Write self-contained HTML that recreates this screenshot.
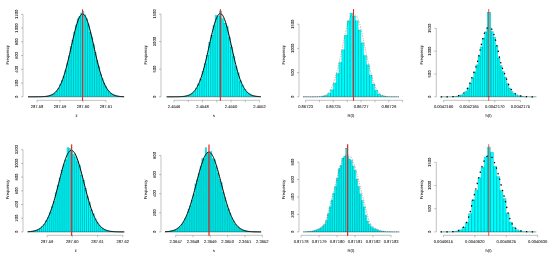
<!DOCTYPE html><html><head><meta charset="utf-8"><title>Histograms</title>
<style>html,body{margin:0;padding:0;background:#fff}svg{display:block}text{font-family:"Liberation Sans",Arial,sans-serif;fill:#111;stroke:#111;stroke-width:0.04px;text-rendering:geometricPrecision}</style></head><body>
<svg width="550" height="259" viewBox="0 0 550 259">
<rect width="550" height="259" fill="#fff"/>
<g>
<path d="M28.00,96.80V96.80h1.75V96.80h1.75V96.80h1.75V96.80h1.75V96.80h1.75V96.65h1.75V96.65h1.75V96.65h1.75V96.64h1.75V96.59h1.75V96.30h1.75V96.02h1.75V95.50h1.75V94.81h1.75V93.95h1.75V92.64h1.75V90.80h1.75V88.21h1.75V83.97h1.75V80.55h1.75V75.91h1.75V70.04h1.75V63.38h1.75V55.68h1.75V46.51h1.75V39.87h1.75V31.98h1.75V25.00h1.75V18.78h1.75V16.62h1.75V13.06h1.75V11.13h1.75V14.64h1.75V18.59h1.75V23.89h1.75V31.97h1.75V36.81h1.75V44.18h1.75V52.31h1.75V60.36h1.75V66.33h1.75V73.82h1.75V78.73h1.75V83.12h1.75V86.23h1.75V89.59h1.75V91.85h1.75V93.36h1.75V94.41h1.75V95.22h1.75V95.81h1.75V96.21h1.75V96.51h1.75V96.55h1.75V96.65h1.75V96.80Z" fill="#00fdfd"/>
<path d="M45.50,96.80v-0.50h1.75v0.50M47.25,96.80v-0.78h1.75v0.78M49.00,96.80v-1.30h1.75v1.30M50.75,96.80v-1.99h1.75v1.99M52.50,96.80v-2.85h1.75v2.85M54.25,96.80v-4.16h1.75v4.16M56.00,96.80v-6.00h1.75v6.00M57.75,96.80v-8.59h1.75v8.59M59.50,96.80v-12.83h1.75v12.83M61.25,96.80v-16.25h1.75v16.25M63.00,96.80v-20.89h1.75v20.89M64.75,96.80v-26.76h1.75v26.76M66.50,96.80v-33.42h1.75v33.42M68.25,96.80v-41.12h1.75v41.12M70.00,96.80v-50.29h1.75v50.29M71.75,96.80v-56.93h1.75v56.93M73.50,96.80v-64.82h1.75v64.82M75.25,96.80v-71.80h1.75v71.80M77.00,96.80v-78.02h1.75v78.02M78.75,96.80v-80.18h1.75v80.18M80.50,96.80v-83.74h1.75v83.74M82.25,96.80v-85.67h1.75v85.67M84.00,96.80v-82.16h1.75v82.16M85.75,96.80v-78.21h1.75v78.21M87.50,96.80v-72.91h1.75v72.91M89.25,96.80v-64.83h1.75v64.83M91.00,96.80v-59.99h1.75v59.99M92.75,96.80v-52.62h1.75v52.62M94.50,96.80v-44.49h1.75v44.49M96.25,96.80v-36.44h1.75v36.44M98.00,96.80v-30.47h1.75v30.47M99.75,96.80v-22.98h1.75v22.98M101.50,96.80v-18.07h1.75v18.07M103.25,96.80v-13.68h1.75v13.68M105.00,96.80v-10.57h1.75v10.57M106.75,96.80v-7.21h1.75v7.21M108.50,96.80v-4.95h1.75v4.95M110.25,96.80v-3.44h1.75v3.44M112.00,96.80v-2.39h1.75v2.39M113.75,96.80v-1.58h1.75v1.58M115.50,96.80v-0.99h1.75v0.99M117.25,96.80v-0.59h1.75v0.59" fill="none" stroke="#06262c" stroke-width="0.16"/>
<path d="M28.00,96.80H124.40" stroke="#0a4a50" stroke-width="0.5"/>
<polyline points="28.00,96.80 28.50,96.80 29.00,96.80 29.50,96.80 30.00,96.80 30.50,96.80 31.00,96.80 31.50,96.80 32.00,96.80 32.50,96.80 33.00,96.79 33.50,96.79 34.00,96.79 34.50,96.79 35.00,96.79 35.50,96.79 36.00,96.78 36.50,96.78 37.00,96.78 37.50,96.77 38.00,96.77 38.50,96.76 39.00,96.75 39.50,96.74 40.00,96.73 40.50,96.72 41.00,96.71 41.50,96.69 42.00,96.67 42.50,96.65 43.00,96.62 43.50,96.59 44.00,96.56 44.50,96.52 45.00,96.47 45.50,96.42 46.00,96.36 46.50,96.30 47.00,96.22 47.50,96.13 48.00,96.04 48.50,95.93 49.00,95.80 49.50,95.67 50.00,95.51 50.50,95.34 51.00,95.14 51.50,94.92 52.00,94.68 52.50,94.42 53.00,94.12 53.50,93.79 54.00,93.43 54.50,93.04 55.00,92.61 55.50,92.13 56.00,91.61 56.50,91.05 57.00,90.44 57.50,89.77 58.00,89.06 58.50,88.28 59.00,87.45 59.50,86.55 60.00,85.59 60.50,84.57 61.00,83.48 61.50,82.32 62.00,81.08 62.50,79.78 63.00,78.40 63.50,76.96 64.00,75.44 64.50,73.84 65.00,72.18 65.50,70.45 66.00,68.65 66.50,66.79 67.00,64.87 67.50,62.89 68.00,60.86 68.50,58.79 69.00,56.67 69.50,54.51 70.00,52.33 70.50,50.13 71.00,47.91 71.50,45.69 72.00,43.47 72.50,41.27 73.00,39.08 73.50,36.93 74.00,34.82 74.50,32.76 75.00,30.76 75.50,28.83 76.00,26.98 76.50,25.23 77.00,23.57 77.50,22.02 78.00,20.58 78.50,19.27 79.00,18.10 79.50,17.06 80.00,16.16 80.50,15.42 81.00,14.83 81.50,14.39 82.00,14.12 82.50,14.00 83.00,14.05 83.50,14.26 84.00,14.63 84.50,15.16 85.00,15.85 85.50,16.68 86.00,17.66 86.50,18.79 87.00,20.04 87.50,21.43 88.00,22.93 88.50,24.55 89.00,26.27 89.50,28.08 90.00,29.98 90.50,31.95 91.00,33.99 91.50,36.08 92.00,38.22 92.50,40.39 93.00,42.59 93.50,44.80 94.00,47.02 94.50,49.24 95.00,51.45 95.50,53.64 96.00,55.81 96.50,57.94 97.00,60.04 97.50,62.09 98.00,64.09 98.50,66.03 99.00,67.92 99.50,69.74 100.00,71.50 100.50,73.19 101.00,74.81 101.50,76.36 102.00,77.83 102.50,79.24 103.00,80.57 103.50,81.83 104.00,83.02 104.50,84.14 105.00,85.19 105.50,86.18 106.00,87.10 106.50,87.96 107.00,88.75 107.50,89.49 108.00,90.18 108.50,90.81 109.00,91.40 109.50,91.93 110.00,92.42 110.50,92.87 111.00,93.28 111.50,93.65 112.00,93.99 112.50,94.30 113.00,94.58 113.50,94.83 114.00,95.06 114.50,95.26 115.00,95.44 115.50,95.61 116.00,95.75 116.50,95.88 117.00,96.00 117.50,96.10 118.00,96.19 118.50,96.27 119.00,96.34 119.50,96.40 120.00,96.45 120.50,96.50 121.00,96.54 121.50,96.58 122.00,96.61 122.50,96.64 123.00,96.66 123.50,96.68 124.00,96.70" fill="none" stroke="#000" stroke-width="1.0" stroke-linejoin="round"/>
<line x1="82.5" y1="9.3" x2="82.5" y2="100.8" stroke="#e42626" stroke-width="1.1"/>
<path d="M23,14.30V96.80" stroke="#444" stroke-width="0.33" fill="none"/>
<path d="M23,96.80h-2" stroke="#444" stroke-width="0.33"/>
<text transform="translate(18.15,96.80) rotate(-90)" font-size="4.12" text-anchor="middle">0</text>
<path d="M23,83.05h-2" stroke="#444" stroke-width="0.33"/>
<text transform="translate(18.15,83.05) rotate(-90)" font-size="4.12" text-anchor="middle">200</text>
<path d="M23,69.30h-2" stroke="#444" stroke-width="0.33"/>
<text transform="translate(18.15,69.30) rotate(-90)" font-size="4.12" text-anchor="middle">400</text>
<path d="M23,55.55h-2" stroke="#444" stroke-width="0.33"/>
<text transform="translate(18.15,55.55) rotate(-90)" font-size="4.12" text-anchor="middle">600</text>
<path d="M23,41.80h-2" stroke="#444" stroke-width="0.33"/>
<text transform="translate(18.15,41.80) rotate(-90)" font-size="4.12" text-anchor="middle">800</text>
<path d="M23,28.05h-2" stroke="#444" stroke-width="0.33"/>
<text transform="translate(18.15,28.05) rotate(-90)" font-size="4.12" text-anchor="middle">1000</text>
<path d="M23,14.30h-2" stroke="#444" stroke-width="0.33"/>
<text transform="translate(18.15,14.30) rotate(-90)" font-size="4.12" text-anchor="middle">1200</text>
<text transform="translate(9.20,54.80) rotate(-90)" font-size="4.12" text-anchor="middle">Frequency</text>
<path d="M37.00,100.3H106.00" stroke="#444" stroke-width="0.33" fill="none"/>
<path d="M37.00,100.3v2" stroke="#444" stroke-width="0.33"/>
<text x="37.00" y="108.40" font-size="4.12" text-anchor="middle">287.58</text>
<path d="M60.00,100.3v2" stroke="#444" stroke-width="0.33"/>
<text x="60.00" y="108.40" font-size="4.12" text-anchor="middle">287.59</text>
<path d="M83.00,100.3v2" stroke="#444" stroke-width="0.33"/>
<text x="83.00" y="108.40" font-size="4.12" text-anchor="middle">287.60</text>
<path d="M106.00,100.3v2" stroke="#444" stroke-width="0.33"/>
<text x="106.00" y="108.40" font-size="4.12" text-anchor="middle">287.61</text>
<text x="76.50" y="117.30" font-size="4.12" text-anchor="middle">z</text>
</g>
<g>
<path d="M166.70,96.80V96.80h2.20V96.80h2.20V96.64h2.20V96.80h2.20V96.65h2.20V96.65h2.20V96.52h2.20V96.33h2.20V96.19h2.20V95.51h2.20V94.71h2.20V93.56h2.20V91.40h2.20V88.16h2.20V83.82h2.20V78.63h2.20V71.24h2.20V63.60h2.20V55.07h2.20V42.35h2.20V35.08h2.20V25.41h2.20V15.14h2.20V16.26h2.20V10.94h2.20V18.41h2.20V22.99h2.20V26.16h2.20V37.29h2.20V46.97h2.20V56.13h2.20V66.16h2.20V72.81h2.20V80.66h2.20V85.17h2.20V89.35h2.20V92.11h2.20V93.69h2.20V94.96h2.20V95.87h2.20V96.34h2.20V96.48h2.20V96.80Z" fill="#00fdfd"/>
<path d="M182.10,96.80v-0.47h2.20v0.47M184.30,96.80v-0.61h2.20v0.61M186.50,96.80v-1.29h2.20v1.29M188.70,96.80v-2.09h2.20v2.09M190.90,96.80v-3.24h2.20v3.24M193.10,96.80v-5.40h2.20v5.40M195.30,96.80v-8.64h2.20v8.64M197.50,96.80v-12.98h2.20v12.98M199.70,96.80v-18.17h2.20v18.17M201.90,96.80v-25.56h2.20v25.56M204.10,96.80v-33.20h2.20v33.20M206.30,96.80v-41.73h2.20v41.73M208.50,96.80v-54.45h2.20v54.45M210.70,96.80v-61.72h2.20v61.72M212.90,96.80v-71.39h2.20v71.39M215.10,96.80v-81.66h2.20v81.66M217.30,96.80v-80.54h2.20v80.54M219.50,96.80v-85.86h2.20v85.86M221.70,96.80v-78.39h2.20v78.39M223.90,96.80v-73.81h2.20v73.81M226.10,96.80v-70.64h2.20v70.64M228.30,96.80v-59.51h2.20v59.51M230.50,96.80v-49.83h2.20v49.83M232.70,96.80v-40.67h2.20v40.67M234.90,96.80v-30.64h2.20v30.64M237.10,96.80v-23.99h2.20v23.99M239.30,96.80v-16.14h2.20v16.14M241.50,96.80v-11.63h2.20v11.63M243.70,96.80v-7.45h2.20v7.45M245.90,96.80v-4.69h2.20v4.69M248.10,96.80v-3.11h2.20v3.11M250.30,96.80v-1.84h2.20v1.84M252.50,96.80v-0.93h2.20v0.93M254.70,96.80v-0.46h2.20v0.46M256.90,96.80v-0.32h2.20v0.32" fill="none" stroke="#06262c" stroke-width="0.16"/>
<path d="M166.70,96.80H261.00" stroke="#0a4a50" stroke-width="0.5"/>
<polyline points="166.70,96.80 167.20,96.80 167.70,96.80 168.20,96.80 168.70,96.80 169.20,96.80 169.70,96.80 170.20,96.80 170.70,96.80 171.20,96.79 171.70,96.79 172.20,96.79 172.70,96.79 173.20,96.79 173.70,96.79 174.20,96.78 174.70,96.78 175.20,96.77 175.70,96.77 176.20,96.76 176.70,96.76 177.20,96.75 177.70,96.74 178.20,96.73 178.70,96.72 179.20,96.70 179.70,96.68 180.20,96.66 180.70,96.64 181.20,96.61 181.70,96.58 182.20,96.54 182.70,96.50 183.20,96.45 183.70,96.40 184.20,96.34 184.70,96.27 185.20,96.19 185.70,96.09 186.20,95.99 186.70,95.87 187.20,95.74 187.70,95.60 188.20,95.43 188.70,95.24 189.20,95.04 189.70,94.81 190.20,94.55 190.70,94.27 191.20,93.95 191.70,93.60 192.20,93.22 192.70,92.80 193.20,92.34 193.70,91.84 194.20,91.29 194.70,90.69 195.20,90.04 195.70,89.33 196.20,88.57 196.70,87.75 197.20,86.87 197.70,85.92 198.20,84.91 198.70,83.83 199.20,82.68 199.70,81.45 200.20,80.16 200.70,78.79 201.20,77.34 201.70,75.82 202.20,74.23 202.70,72.57 203.20,70.83 203.70,69.03 204.20,67.16 204.70,65.22 205.20,63.23 205.70,61.18 206.20,59.09 206.70,56.95 207.20,54.77 207.70,52.56 208.20,50.33 208.70,48.08 209.20,45.82 209.70,43.57 210.20,41.33 210.70,39.11 211.20,36.92 211.70,34.77 212.20,32.67 212.70,30.63 213.20,28.66 213.70,26.78 214.20,24.98 214.70,23.29 215.20,21.70 215.70,20.24 216.20,18.90 216.70,17.69 217.20,16.63 217.70,15.71 218.20,14.95 218.70,14.35 219.20,13.90 219.70,13.62 220.20,13.50 220.70,13.55 221.20,13.77 221.70,14.15 222.20,14.69 222.70,15.39 223.20,16.25 223.70,17.25 224.20,18.40 224.70,19.69 225.20,21.10 225.70,22.64 226.20,24.29 226.70,26.05 227.20,27.90 227.70,29.83 228.20,31.85 228.70,33.92 229.20,36.05 229.70,38.23 230.20,40.44 230.70,42.67 231.20,44.92 231.70,47.18 232.20,49.43 232.70,51.67 233.20,53.89 233.70,56.08 234.20,58.24 234.70,60.35 235.20,62.42 235.70,64.43 236.20,66.39 236.70,68.29 237.20,70.12 237.70,71.88 238.20,73.57 238.70,75.19 239.20,76.74 239.70,78.22 240.20,79.62 240.70,80.94 241.20,82.20 241.70,83.38 242.20,84.49 242.70,85.53 243.20,86.50 243.70,87.41 244.20,88.25 244.70,89.04 245.20,89.76 245.70,90.43 246.20,91.05 246.70,91.62 247.20,92.14 247.70,92.62 248.20,93.06 248.70,93.45 249.20,93.82 249.70,94.14 250.20,94.44 250.70,94.71 251.20,94.95 251.70,95.16 252.20,95.36 252.70,95.53 253.20,95.69 253.70,95.82 254.20,95.95 254.70,96.06 255.20,96.15 255.70,96.24 256.20,96.31 256.70,96.38 257.20,96.43 257.70,96.48 258.20,96.53 258.70,96.57 259.20,96.60 259.70,96.63 260.20,96.65 260.70,96.68" fill="none" stroke="#000" stroke-width="1.0" stroke-linejoin="round"/>
<line x1="220.4" y1="9.3" x2="220.4" y2="100.8" stroke="#e42626" stroke-width="1.1"/>
<path d="M161,14.00V96.80" stroke="#444" stroke-width="0.33" fill="none"/>
<path d="M161,96.80h-2" stroke="#444" stroke-width="0.33"/>
<text transform="translate(156.15,96.80) rotate(-90)" font-size="4.12" text-anchor="middle">0</text>
<path d="M161,69.20h-2" stroke="#444" stroke-width="0.33"/>
<text transform="translate(156.15,69.20) rotate(-90)" font-size="4.12" text-anchor="middle">500</text>
<path d="M161,41.60h-2" stroke="#444" stroke-width="0.33"/>
<text transform="translate(156.15,41.60) rotate(-90)" font-size="4.12" text-anchor="middle">1000</text>
<path d="M161,14.00h-2" stroke="#444" stroke-width="0.33"/>
<text transform="translate(156.15,14.00) rotate(-90)" font-size="4.12" text-anchor="middle">1500</text>
<text transform="translate(147.20,54.80) rotate(-90)" font-size="4.12" text-anchor="middle">Frequency</text>
<path d="M174.00,100.3H259.50" stroke="#444" stroke-width="0.33" fill="none"/>
<path d="M174.00,100.3v2" stroke="#444" stroke-width="0.33"/>
<text x="174.00" y="108.40" font-size="4.12" text-anchor="middle">2.4546</text>
<path d="M188.25,100.3v2" stroke="#444" stroke-width="0.33"/>
<path d="M202.50,100.3v2" stroke="#444" stroke-width="0.33"/>
<text x="202.50" y="108.40" font-size="4.12" text-anchor="middle">2.4548</text>
<path d="M216.75,100.3v2" stroke="#444" stroke-width="0.33"/>
<path d="M231.00,100.3v2" stroke="#444" stroke-width="0.33"/>
<text x="231.00" y="108.40" font-size="4.12" text-anchor="middle">2.4550</text>
<path d="M245.25,100.3v2" stroke="#444" stroke-width="0.33"/>
<path d="M259.50,100.3v2" stroke="#444" stroke-width="0.33"/>
<text x="259.50" y="108.40" font-size="4.12" text-anchor="middle">2.4552</text>
<text x="213.70" y="117.30" font-size="4.12" text-anchor="middle">s</text>
</g>
<g>
<path d="M305.60,96.80V96.80h2.77V96.80h2.77V96.80h2.77V96.65h2.77V96.65h2.77V96.57h2.77V96.10h2.77V95.24h2.77V93.31h2.77V89.65h2.77V83.00h2.77V73.50h2.77V62.40h2.77V49.70h2.77V35.30h2.77V20.70h2.77V13.10h2.77V16.10h2.77V20.70h2.77V30.00h2.77V42.70h2.77V55.50h2.77V64.70h2.77V74.90h2.77V84.12h2.77V90.21h2.77V93.94h2.77V95.41h2.77V96.29h2.77V96.61h2.77V96.65h2.77V96.65h2.77V96.80h2.77V96.80Z" fill="#00fdfd"/>
<path d="M322.24,96.80v-0.70h2.77v0.70M325.02,96.80v-1.56h2.77v1.56M327.79,96.80v-3.49h2.77v3.49M330.57,96.80v-7.15h2.77v7.15M333.34,96.80v-13.80h2.77v13.80M336.11,96.80v-23.30h2.77v23.30M338.89,96.80v-34.40h2.77v34.40M341.66,96.80v-47.10h2.77v47.10M344.44,96.80v-61.50h2.77v61.50M347.21,96.80v-76.10h2.77v76.10M349.98,96.80v-83.70h2.77v83.70M352.76,96.80v-80.70h2.77v80.70M355.53,96.80v-76.10h2.77v76.10M358.31,96.80v-66.80h2.77v66.80M361.08,96.80v-54.10h2.77v54.10M363.85,96.80v-41.30h2.77v41.30M366.63,96.80v-32.10h2.77v32.10M369.40,96.80v-21.90h2.77v21.90M372.18,96.80v-12.68h2.77v12.68M374.95,96.80v-6.59h2.77v6.59M377.72,96.80v-2.86h2.77v2.86M380.50,96.80v-1.39h2.77v1.39M383.27,96.80v-0.51h2.77v0.51" fill="none" stroke="#06262c" stroke-width="0.16"/>
<path d="M303.00,96.80H399.00" stroke="#0a4a50" stroke-width="0.5"/>
<polyline points="303.00,96.80 303.50,96.80 304.00,96.80 304.50,96.80 305.00,96.80 305.50,96.80 306.00,96.80 306.50,96.80 307.00,96.80 307.50,96.80 308.00,96.80 308.50,96.80 309.00,96.80 309.50,96.80 310.00,96.80 310.50,96.79 311.00,96.79 311.50,96.79 312.00,96.79 312.50,96.79 313.00,96.78 313.50,96.78 314.00,96.78 314.50,96.77 315.00,96.76 315.50,96.76 316.00,96.75 316.50,96.73 317.00,96.72 317.50,96.70 318.00,96.68 318.50,96.66 319.00,96.63 319.50,96.59 320.00,96.55 320.50,96.50 321.00,96.44 321.50,96.37 322.00,96.29 322.50,96.19 323.00,96.07 323.50,95.93 324.00,95.78 324.50,95.59 325.00,95.38 325.50,95.14 326.00,94.87 326.50,94.56 327.00,94.20 327.50,93.81 328.00,93.33 328.50,92.77 329.00,92.14 329.50,91.43 330.00,90.65 330.50,89.79 331.00,88.84 331.50,87.80 332.00,86.70 332.50,85.53 333.00,84.26 333.50,82.90 334.00,81.45 334.50,79.90 335.00,78.26 335.50,76.52 336.00,74.77 336.50,73.00 337.00,71.14 337.50,69.20 338.00,67.18 338.50,65.10 339.00,62.94 339.50,60.73 340.00,58.46 340.50,56.14 341.00,53.78 341.50,51.40 342.00,49.00 342.50,46.58 343.00,44.17 343.50,41.77 344.00,39.40 344.50,37.07 345.00,34.79 345.50,32.57 346.00,30.44 346.50,28.39 347.00,26.44 347.50,24.61 348.00,22.91 348.50,21.34 349.00,19.92 349.50,18.66 350.00,17.57 350.50,16.65 351.00,15.91 351.50,15.35 352.00,14.99 352.50,14.82 353.00,14.80 353.50,14.80 354.00,14.80 354.50,14.80 355.00,14.83 355.50,15.05 356.00,15.45 356.50,16.04 357.00,16.82 357.50,17.77 358.00,18.90 358.50,20.19 359.00,21.64 359.50,23.24 360.00,24.97 360.50,26.82 361.00,28.79 361.50,30.86 362.00,33.01 362.50,35.24 363.00,37.53 363.50,39.87 364.00,42.25 364.50,44.65 365.00,47.06 365.50,49.48 366.00,51.88 366.50,54.26 367.00,56.61 367.50,58.92 368.00,61.18 368.50,63.38 369.00,65.52 369.50,67.59 370.00,69.59 370.50,71.52 371.00,73.36 371.50,75.12 372.00,76.87 372.50,78.59 373.00,80.22 373.50,81.75 374.00,83.18 374.50,84.52 375.00,85.77 375.50,86.92 376.00,88.02 376.50,89.04 377.00,89.97 377.50,90.82 378.00,91.58 378.50,92.27 379.00,92.88 379.50,93.43 380.00,93.89 380.50,94.28 381.00,94.62 381.50,94.93 382.00,95.19 382.50,95.43 383.00,95.63 383.50,95.81 384.00,95.96 384.50,96.09 385.00,96.21 385.50,96.31 386.00,96.39 386.50,96.46 387.00,96.51 387.50,96.56 388.00,96.60 388.50,96.63 389.00,96.66 389.50,96.69 390.00,96.70 390.50,96.72 391.00,96.74 391.50,96.75 392.00,96.76 392.50,96.76 393.00,96.77 393.50,96.78 394.00,96.78 394.50,96.78 395.00,96.79 395.50,96.79 396.00,96.79 396.50,96.79 397.00,96.80 397.50,96.80 398.00,96.80 398.50,96.80 399.00,96.80" fill="none" stroke="#000" stroke-width="0.5" stroke-dasharray="0.5 1.3"/>
<line x1="353.5" y1="9.1" x2="353.5" y2="100.8" stroke="#e42626" stroke-width="1.1"/>
<path d="M299,24.20V96.80" stroke="#444" stroke-width="0.33" fill="none"/>
<path d="M299,96.80h-2" stroke="#444" stroke-width="0.33"/>
<text transform="translate(294.15,96.80) rotate(-90)" font-size="4.12" text-anchor="middle">0</text>
<path d="M299,72.60h-2" stroke="#444" stroke-width="0.33"/>
<text transform="translate(294.15,72.60) rotate(-90)" font-size="4.12" text-anchor="middle">500</text>
<path d="M299,48.40h-2" stroke="#444" stroke-width="0.33"/>
<text transform="translate(294.15,48.40) rotate(-90)" font-size="4.12" text-anchor="middle">1000</text>
<path d="M299,24.20h-2" stroke="#444" stroke-width="0.33"/>
<text transform="translate(294.15,24.20) rotate(-90)" font-size="4.12" text-anchor="middle">1500</text>
<text transform="translate(285.20,54.80) rotate(-90)" font-size="4.12" text-anchor="middle">Frequency</text>
<path d="M305.60,100.3H402.69" stroke="#444" stroke-width="0.33" fill="none"/>
<path d="M305.60,100.3v2" stroke="#444" stroke-width="0.33"/>
<text x="305.60" y="108.40" font-size="4.12" text-anchor="middle">0.86723</text>
<path d="M319.47,100.3v2" stroke="#444" stroke-width="0.33"/>
<path d="M333.34,100.3v2" stroke="#444" stroke-width="0.33"/>
<text x="333.34" y="108.40" font-size="4.12" text-anchor="middle">0.86725</text>
<path d="M347.21,100.3v2" stroke="#444" stroke-width="0.33"/>
<path d="M361.08,100.3v2" stroke="#444" stroke-width="0.33"/>
<text x="361.08" y="108.40" font-size="4.12" text-anchor="middle">0.86727</text>
<path d="M374.95,100.3v2" stroke="#444" stroke-width="0.33"/>
<path d="M388.82,100.3v2" stroke="#444" stroke-width="0.33"/>
<text x="388.82" y="108.40" font-size="4.12" text-anchor="middle">0.86729</text>
<path d="M402.69,100.3v2" stroke="#444" stroke-width="0.33"/>
<text x="351.00" y="117.30" font-size="4.12" text-anchor="middle">R(t)</text>
</g>
<g>
<path d="M442.80,96.80V96.80h2.20V96.80h2.20V96.65h2.20V96.65h2.20V96.60h2.20V96.45h2.20V96.05h2.20V95.57h2.20V94.74h2.20V93.39h2.20V91.35h2.20V87.87h2.20V83.15h2.20V77.66h2.20V71.76h2.20V64.72h2.20V56.10h2.20V46.86h2.20V37.93h2.20V31.75h2.20V28.97h2.20V27.80h2.20V31.54h2.20V37.09h2.20V45.81h2.20V57.72h2.20V65.39h2.20V71.41h2.20V77.11h2.20V83.45h2.20V87.96h2.20V91.51h2.20V93.39h2.20V94.63h2.20V95.50h2.20V96.03h2.20V96.35h2.20V96.65h2.20V96.65h2.20V96.65h2.20V96.80h2.20V96.80h2.20V96.80Z" fill="#00fdfd"/>
<path d="M453.80,96.80v-0.35h2.20v0.35M456.00,96.80v-0.75h2.20v0.75M458.20,96.80v-1.23h2.20v1.23M460.40,96.80v-2.06h2.20v2.06M462.60,96.80v-3.41h2.20v3.41M464.80,96.80v-5.45h2.20v5.45M467.00,96.80v-8.93h2.20v8.93M469.20,96.80v-13.65h2.20v13.65M471.40,96.80v-19.14h2.20v19.14M473.60,96.80v-25.04h2.20v25.04M475.80,96.80v-32.08h2.20v32.08M478.00,96.80v-40.70h2.20v40.70M480.20,96.80v-49.94h2.20v49.94M482.40,96.80v-58.87h2.20v58.87M484.60,96.80v-65.05h2.20v65.05M486.80,96.80v-67.83h2.20v67.83M489.00,96.80v-69.00h2.20v69.00M491.20,96.80v-65.26h2.20v65.26M493.40,96.80v-59.71h2.20v59.71M495.60,96.80v-50.99h2.20v50.99M497.80,96.80v-39.08h2.20v39.08M500.00,96.80v-31.41h2.20v31.41M502.20,96.80v-25.39h2.20v25.39M504.40,96.80v-19.69h2.20v19.69M506.60,96.80v-13.35h2.20v13.35M508.80,96.80v-8.84h2.20v8.84M511.00,96.80v-5.29h2.20v5.29M513.20,96.80v-3.41h2.20v3.41M515.40,96.80v-2.17h2.20v2.17M517.60,96.80v-1.30h2.20v1.30M519.80,96.80v-0.77h2.20v0.77M522.00,96.80v-0.45h2.20v0.45" fill="none" stroke="#06262c" stroke-width="0.16"/>
<rect x="487.3" y="12.2" width="3.40" height="84.60" fill="#00fdfd" stroke="#06262c" stroke-width="0.2"/>
<path d="M440.70,96.80H536.40" stroke="#0a4a50" stroke-width="0.5"/>
<polyline points="440.70,96.80 441.20,96.80 441.70,96.80 442.20,96.79 442.70,96.79 443.20,96.79 443.70,96.79 444.20,96.79 444.70,96.79 445.20,96.78 445.70,96.78 446.20,96.78 446.70,96.77 447.20,96.76 447.70,96.76 448.20,96.75 448.70,96.74 449.20,96.73 449.70,96.72 450.20,96.70 450.70,96.68 451.20,96.66 451.70,96.64 452.20,96.61 452.70,96.58 453.20,96.54 453.70,96.50 454.20,96.45 454.70,96.39 455.20,96.33 455.70,96.25 456.20,96.17 456.70,96.07 457.20,95.97 457.70,95.85 458.20,95.71 458.70,95.55 459.20,95.38 459.70,95.19 460.20,95.01 460.70,94.80 461.20,94.57 461.70,94.32 462.20,94.04 462.70,93.74 463.20,93.40 463.70,93.04 464.20,92.64 464.70,92.20 465.20,91.66 465.70,91.04 466.20,90.36 466.70,89.62 467.20,88.81 467.70,87.94 468.20,86.99 468.70,85.97 469.20,84.88 469.70,83.72 470.20,82.47 470.70,81.15 471.20,79.74 471.70,78.26 472.20,76.70 472.70,75.28 473.20,74.13 473.70,72.92 474.20,71.70 474.70,70.43 475.20,69.11 475.70,67.73 476.20,66.25 476.70,64.59 477.20,62.87 477.70,61.10 478.20,59.04 478.70,56.63 479.20,54.23 479.70,51.89 480.20,49.67 480.70,47.47 481.20,45.32 481.70,43.22 482.20,41.20 482.70,39.26 483.20,37.43 483.70,35.71 484.20,34.11 484.70,32.66 485.20,31.36 485.70,30.22 486.20,29.26 486.70,28.48 487.20,27.87 487.70,27.46 488.20,27.24 488.70,27.20 489.20,27.20 489.70,27.22 490.20,27.40 490.70,27.77 491.20,28.34 491.70,29.09 492.20,30.02 492.70,31.12 493.20,32.39 493.70,33.81 494.20,35.38 494.70,37.07 495.20,38.89 495.70,40.81 496.20,42.81 496.70,44.89 497.20,47.04 497.70,49.23 498.20,51.45 498.70,53.75 499.20,56.15 499.70,58.56 500.20,60.73 500.70,62.52 501.20,64.25 501.70,65.93 502.20,67.44 502.70,68.84 503.20,70.17 503.70,71.45 504.20,72.67 504.70,73.89 505.20,75.06 505.70,76.38 506.20,77.95 506.70,79.45 507.20,80.88 507.70,82.22 508.20,83.47 508.70,84.66 509.20,85.76 509.70,86.80 510.20,87.75 510.70,88.64 511.20,89.46 511.70,90.22 512.20,90.91 512.70,91.54 513.20,92.11 513.70,92.55 514.20,92.96 514.70,93.33 515.20,93.67 515.70,93.98 516.20,94.27 516.70,94.52 517.20,94.76 517.70,94.97 518.20,95.16 518.70,95.34 519.20,95.52 519.70,95.68 520.20,95.82 520.70,95.94 521.20,96.05 521.70,96.15 522.20,96.24 522.70,96.31 523.20,96.38 523.70,96.44 524.20,96.49 524.70,96.53 525.20,96.57 525.70,96.60 526.20,96.63 526.70,96.66 527.20,96.68 527.70,96.70 528.20,96.71 528.70,96.73 529.20,96.74 529.70,96.75 530.20,96.76 530.70,96.76 531.20,96.77 531.70,96.77 532.20,96.78 532.70,96.78 533.20,96.79 533.70,96.79 534.20,96.79 534.70,96.79 535.20,96.79 535.70,96.79 536.20,96.80" fill="none" stroke="#000" stroke-width="1.25" stroke-dasharray="1.4 4.4"/>
<line x1="488.65" y1="9.0" x2="488.65" y2="100.8" stroke="rgba(255,0,0,0.55)" stroke-width="1.3"/>
<path d="M436.3,28.40V96.80" stroke="#444" stroke-width="0.33" fill="none"/>
<path d="M436.3,96.80h-2" stroke="#444" stroke-width="0.33"/>
<text transform="translate(431.45,96.80) rotate(-90)" font-size="4.12" text-anchor="middle">0</text>
<path d="M436.3,74.00h-2" stroke="#444" stroke-width="0.33"/>
<text transform="translate(431.45,74.00) rotate(-90)" font-size="4.12" text-anchor="middle">500</text>
<path d="M436.3,51.20h-2" stroke="#444" stroke-width="0.33"/>
<text transform="translate(431.45,51.20) rotate(-90)" font-size="4.12" text-anchor="middle">1000</text>
<path d="M436.3,28.40h-2" stroke="#444" stroke-width="0.33"/>
<text transform="translate(431.45,28.40) rotate(-90)" font-size="4.12" text-anchor="middle">1500</text>
<text transform="translate(422.50,54.80) rotate(-90)" font-size="4.12" text-anchor="middle">Frequency</text>
<path d="M443.60,100.3H520.40" stroke="#444" stroke-width="0.33" fill="none"/>
<path d="M443.60,100.3v2" stroke="#444" stroke-width="0.33"/>
<text x="443.60" y="108.40" font-size="4.12" text-anchor="middle">0.0042160</text>
<path d="M469.20,100.3v2" stroke="#444" stroke-width="0.33"/>
<text x="469.20" y="108.40" font-size="4.12" text-anchor="middle">0.0042165</text>
<path d="M494.80,100.3v2" stroke="#444" stroke-width="0.33"/>
<text x="494.80" y="108.40" font-size="4.12" text-anchor="middle">0.0042170</text>
<path d="M520.40,100.3v2" stroke="#444" stroke-width="0.33"/>
<text x="520.40" y="108.40" font-size="4.12" text-anchor="middle">0.0042175</text>
<text x="488.50" y="117.30" font-size="4.12" text-anchor="middle">h(t)</text>
</g>
<g>
<path d="M27.70,231.90V231.68h1.96V231.53h1.96V231.29h1.96V230.86h1.96V230.20h1.96V229.37h1.96V228.26h1.96V226.42h1.96V224.30h1.96V220.34h1.96V217.11h1.96V211.92h1.96V206.35h1.96V201.18h1.96V192.55h1.96V185.02h1.96V177.86h1.96V169.88h1.96V164.32h1.96V159.58h1.96V147.60h1.96V148.40h1.96V150.29h1.96V154.29h1.96V156.66h1.96V161.24h1.96V165.32h1.96V174.88h1.96V179.91h1.96V188.25h1.96V196.50h1.96V202.53h1.96V209.64h1.96V213.77h1.96V218.69h1.96V222.16h1.96V225.03h1.96V227.15h1.96V228.70h1.96V229.76h1.96V230.48h1.96V231.23h1.96V231.36h1.96V231.60h1.96V231.72h1.96V231.75h1.96V231.75h1.96V231.75h1.96V231.90h1.96V231.90Z" fill="#00fdfd"/>
<path d="M29.66,231.90v-0.37h1.96v0.37M31.62,231.90v-0.61h1.96v0.61M33.58,231.90v-1.04h1.96v1.04M35.54,231.90v-1.70h1.96v1.70M37.50,231.90v-2.53h1.96v2.53M39.46,231.90v-3.64h1.96v3.64M41.42,231.90v-5.48h1.96v5.48M43.38,231.90v-7.60h1.96v7.60M45.34,231.90v-11.56h1.96v11.56M47.30,231.90v-14.79h1.96v14.79M49.26,231.90v-19.98h1.96v19.98M51.22,231.90v-25.55h1.96v25.55M53.18,231.90v-30.72h1.96v30.72M55.14,231.90v-39.35h1.96v39.35M57.10,231.90v-46.88h1.96v46.88M59.06,231.90v-54.04h1.96v54.04M61.02,231.90v-62.02h1.96v62.02M62.98,231.90v-67.58h1.96v67.58M64.94,231.90v-72.32h1.96v72.32M66.90,231.90v-84.30h1.96v84.30M68.86,231.90v-83.50h1.96v83.50M70.82,231.90v-81.61h1.96v81.61M72.78,231.90v-77.61h1.96v77.61M74.74,231.90v-75.24h1.96v75.24M76.70,231.90v-70.66h1.96v70.66M78.66,231.90v-66.58h1.96v66.58M80.62,231.90v-57.02h1.96v57.02M82.58,231.90v-51.99h1.96v51.99M84.54,231.90v-43.65h1.96v43.65M86.50,231.90v-35.40h1.96v35.40M88.46,231.90v-29.37h1.96v29.37M90.42,231.90v-22.26h1.96v22.26M92.38,231.90v-18.13h1.96v18.13M94.34,231.90v-13.21h1.96v13.21M96.30,231.90v-9.74h1.96v9.74M98.26,231.90v-6.87h1.96v6.87M100.22,231.90v-4.75h1.96v4.75M102.18,231.90v-3.20h1.96v3.20M104.14,231.90v-2.14h1.96v2.14M106.10,231.90v-1.42h1.96v1.42M108.06,231.90v-0.67h1.96v0.67M110.02,231.90v-0.54h1.96v0.54M111.98,231.90v-0.30h1.96v0.30" fill="none" stroke="#06262c" stroke-width="0.16"/>
<path d="M27.70,231.90H124.30" stroke="#0a4a50" stroke-width="0.5"/>
<polyline points="27.70,231.72 28.20,231.69 28.70,231.66 29.20,231.63 29.70,231.59 30.20,231.54 30.70,231.49 31.20,231.44 31.70,231.37 32.20,231.30 32.70,231.22 33.20,231.13 33.70,231.04 34.20,230.93 34.70,230.80 35.20,230.67 35.70,230.52 36.20,230.35 36.70,230.17 37.20,229.97 37.70,229.75 38.20,229.50 38.70,229.24 39.20,228.94 39.70,228.63 40.20,228.28 40.70,227.90 41.20,227.49 41.70,227.05 42.20,226.57 42.70,226.05 43.20,225.50 43.70,224.90 44.20,224.25 44.70,223.56 45.20,222.83 45.70,222.04 46.20,221.21 46.70,220.32 47.20,219.37 47.70,218.38 48.20,217.32 48.70,216.21 49.20,215.04 49.70,213.82 50.20,212.53 50.70,211.19 51.20,209.79 51.70,208.33 52.20,206.82 52.70,205.25 53.20,203.63 53.70,201.96 54.20,200.24 54.70,198.47 55.20,196.67 55.70,194.82 56.20,192.94 56.70,191.03 57.20,189.10 57.70,187.14 58.20,185.18 58.70,183.20 59.20,181.22 59.70,179.24 60.20,177.28 60.70,175.33 61.20,173.41 61.70,171.51 62.20,169.66 62.70,167.85 63.20,166.10 63.70,164.40 64.20,162.77 64.70,161.22 65.20,159.74 65.70,158.36 66.20,157.06 66.70,155.87 67.20,154.78 67.70,153.80 68.20,152.93 68.70,152.18 69.20,151.55 69.70,151.05 70.20,150.68 70.70,150.43 71.20,150.31 71.70,150.32 72.20,150.47 72.70,150.74 73.20,151.14 73.70,151.67 74.20,152.32 74.70,153.09 75.20,153.98 75.70,154.99 76.20,156.10 76.70,157.31 77.20,158.63 77.70,160.03 78.20,161.52 78.70,163.09 79.20,164.74 79.70,166.44 80.20,168.21 80.70,170.03 81.20,171.89 81.70,173.79 82.20,175.72 82.70,177.67 83.20,179.64 83.70,181.62 84.20,183.59 84.70,185.57 85.20,187.54 85.70,189.49 86.20,191.42 86.70,193.32 87.20,195.19 87.70,197.03 88.20,198.83 88.70,200.58 89.20,202.30 89.70,203.96 90.20,205.57 90.70,207.12 91.20,208.63 91.70,210.07 92.20,211.46 92.70,212.79 93.20,214.07 93.70,215.28 94.20,216.44 94.70,217.54 95.20,218.58 95.70,219.57 96.20,220.50 96.70,221.38 97.20,222.20 97.70,222.98 98.20,223.71 98.70,224.38 99.20,225.02 99.70,225.61 100.20,226.16 100.70,226.67 101.20,227.14 101.70,227.58 102.20,227.98 102.70,228.35 103.20,228.69 103.70,229.00 104.20,229.29 104.70,229.55 105.20,229.79 105.70,230.01 106.20,230.21 106.70,230.39 107.20,230.55 107.70,230.70 108.20,230.83 108.70,230.95 109.20,231.06 109.70,231.15 110.20,231.24 110.70,231.32 111.20,231.39 111.70,231.45 112.20,231.50 112.70,231.55 113.20,231.60 113.70,231.63 114.20,231.67 114.70,231.70 115.20,231.72 115.70,231.75 116.20,231.77 116.70,231.79 117.20,231.80 117.70,231.81 118.20,231.83 118.70,231.84 119.20,231.85 119.70,231.85 120.20,231.86 120.70,231.87 121.20,231.87 121.70,231.88 122.20,231.88 122.70,231.88 123.20,231.88 123.70,231.89 124.20,231.89" fill="none" stroke="#000" stroke-width="1.0" stroke-linejoin="round"/>
<line x1="71.6" y1="144.4" x2="71.6" y2="235.8" stroke="#dc3232" stroke-width="1.3"/>
<path d="M23,149.70V231.90" stroke="#444" stroke-width="0.33" fill="none"/>
<path d="M23,231.90h-2" stroke="#444" stroke-width="0.33"/>
<text transform="translate(18.15,231.90) rotate(-90)" font-size="4.12" text-anchor="middle">0</text>
<path d="M23,218.20h-2" stroke="#444" stroke-width="0.33"/>
<text transform="translate(18.15,218.20) rotate(-90)" font-size="4.12" text-anchor="middle">200</text>
<path d="M23,204.50h-2" stroke="#444" stroke-width="0.33"/>
<text transform="translate(18.15,204.50) rotate(-90)" font-size="4.12" text-anchor="middle">400</text>
<path d="M23,190.80h-2" stroke="#444" stroke-width="0.33"/>
<text transform="translate(18.15,190.80) rotate(-90)" font-size="4.12" text-anchor="middle">600</text>
<path d="M23,177.10h-2" stroke="#444" stroke-width="0.33"/>
<text transform="translate(18.15,177.10) rotate(-90)" font-size="4.12" text-anchor="middle">800</text>
<path d="M23,163.40h-2" stroke="#444" stroke-width="0.33"/>
<text transform="translate(18.15,163.40) rotate(-90)" font-size="4.12" text-anchor="middle">1000</text>
<path d="M23,149.70h-2" stroke="#444" stroke-width="0.33"/>
<text transform="translate(18.15,149.70) rotate(-90)" font-size="4.12" text-anchor="middle">1200</text>
<text transform="translate(9.20,189.50) rotate(-90)" font-size="4.12" text-anchor="middle">Frequency</text>
<path d="M47.10,235.3H122.85" stroke="#444" stroke-width="0.33" fill="none"/>
<path d="M47.10,235.3v2" stroke="#444" stroke-width="0.33"/>
<text x="47.10" y="243.40" font-size="4.12" text-anchor="middle">287.59</text>
<path d="M72.35,235.3v2" stroke="#444" stroke-width="0.33"/>
<text x="72.35" y="243.40" font-size="4.12" text-anchor="middle">287.60</text>
<path d="M97.60,235.3v2" stroke="#444" stroke-width="0.33"/>
<text x="97.60" y="243.40" font-size="4.12" text-anchor="middle">287.61</text>
<path d="M122.85,235.3v2" stroke="#444" stroke-width="0.33"/>
<text x="122.85" y="243.40" font-size="4.12" text-anchor="middle">287.62</text>
<text x="75.70" y="252.30" font-size="4.12" text-anchor="middle">z</text>
</g>
<g>
<path d="M165.30,231.90V231.60h1.73V231.73h1.73V231.32h1.73V230.85h1.73V230.58h1.73V229.85h1.73V229.13h1.73V227.86h1.73V226.52h1.73V224.02h1.73V221.74h1.73V218.30h1.73V214.66h1.73V209.21h1.73V205.46h1.73V199.79h1.73V193.94h1.73V183.70h1.73V179.44h1.73V173.19h1.73V166.14h1.73V158.15h1.73V158.61h1.73V147.50h1.73V152.58h1.73V153.60h1.73V151.36h1.73V158.48h1.73V159.63h1.73V166.54h1.73V172.86h1.73V179.55h1.73V182.60h1.73V192.05h1.73V197.43h1.73V204.71h1.73V208.85h1.73V213.24h1.73V217.72h1.73V220.77h1.73V223.99h1.73V225.63h1.73V227.33h1.73V228.81h1.73V229.91h1.73V230.27h1.73V230.81h1.73V231.15h1.73V231.50h1.73V231.66h1.73V231.75h1.73V231.75h1.73V231.75h1.73V231.73h1.73V231.90h1.73V231.90Z" fill="#00eaea"/>
<path d="M168.77,231.90v-0.58h1.73v0.58M170.50,231.90v-1.05h1.73v1.05M172.23,231.90v-1.32h1.73v1.32M173.96,231.90v-2.05h1.73v2.05M175.70,231.90v-2.77h1.73v2.77M177.43,231.90v-4.04h1.73v4.04M179.16,231.90v-5.38h1.73v5.38M180.89,231.90v-7.88h1.73v7.88M182.62,231.90v-10.16h1.73v10.16M184.36,231.90v-13.60h1.73v13.60M186.09,231.90v-17.24h1.73v17.24M187.82,231.90v-22.69h1.73v22.69M189.55,231.90v-26.44h1.73v26.44M191.28,231.90v-32.11h1.73v32.11M193.02,231.90v-37.96h1.73v37.96M194.75,231.90v-48.20h1.73v48.20M196.48,231.90v-52.46h1.73v52.46M198.21,231.90v-58.71h1.73v58.71M199.94,231.90v-65.76h1.73v65.76M201.68,231.90v-73.75h1.73v73.75M203.41,231.90v-73.29h1.73v73.29M205.14,231.90v-84.40h1.73v84.40M206.87,231.90v-79.32h1.73v79.32M208.60,231.90v-78.30h1.73v78.30M210.34,231.90v-80.54h1.73v80.54M212.07,231.90v-73.42h1.73v73.42M213.80,231.90v-72.27h1.73v72.27M215.53,231.90v-65.36h1.73v65.36M217.26,231.90v-59.04h1.73v59.04M219.00,231.90v-52.35h1.73v52.35M220.73,231.90v-49.30h1.73v49.30M222.46,231.90v-39.85h1.73v39.85M224.19,231.90v-34.47h1.73v34.47M225.92,231.90v-27.19h1.73v27.19M227.66,231.90v-23.05h1.73v23.05M229.39,231.90v-18.66h1.73v18.66M231.12,231.90v-14.18h1.73v14.18M232.85,231.90v-11.13h1.73v11.13M234.58,231.90v-7.91h1.73v7.91M236.32,231.90v-6.27h1.73v6.27M238.05,231.90v-4.57h1.73v4.57M239.78,231.90v-3.09h1.73v3.09M241.51,231.90v-1.99h1.73v1.99M243.24,231.90v-1.63h1.73v1.63M244.98,231.90v-1.09h1.73v1.09M246.71,231.90v-0.75h1.73v0.75M248.44,231.90v-0.40h1.73v0.40" fill="none" stroke="#06262c" stroke-width="0.1"/>
<path d="M165.00,231.90H261.40" stroke="#0a4a50" stroke-width="0.5"/>
<polyline points="165.00,231.73 165.50,231.70 166.00,231.67 166.50,231.64 167.00,231.60 167.50,231.56 168.00,231.51 168.50,231.46 169.00,231.40 169.50,231.33 170.00,231.25 170.50,231.17 171.00,231.08 171.50,230.97 172.00,230.85 172.50,230.72 173.00,230.58 173.50,230.42 174.00,230.24 174.50,230.05 175.00,229.84 175.50,229.60 176.00,229.35 176.50,229.07 177.00,228.76 177.50,228.43 178.00,228.07 178.50,227.67 179.00,227.25 179.50,226.78 180.00,226.29 180.50,225.75 181.00,225.17 181.50,224.55 182.00,223.89 182.50,223.18 183.00,222.42 183.50,221.61 184.00,220.75 184.50,219.84 185.00,218.87 185.50,217.85 186.00,216.78 186.50,215.65 187.00,214.46 187.50,213.22 188.00,211.91 188.50,210.55 189.00,209.14 189.50,207.67 190.00,206.15 190.50,204.57 191.00,202.95 191.50,201.28 192.00,199.56 192.50,197.80 193.00,196.00 193.50,194.17 194.00,192.31 194.50,190.42 195.00,188.51 195.50,186.59 196.00,184.66 196.50,182.72 197.00,180.79 197.50,178.87 198.00,176.96 198.50,175.07 199.00,173.21 199.50,171.39 200.00,169.62 200.50,167.89 201.00,166.22 201.50,164.61 202.00,163.08 202.50,161.62 203.00,160.24 203.50,158.96 204.00,157.77 204.50,156.68 205.00,155.70 205.50,154.83 206.00,154.08 206.50,153.44 207.00,152.92 207.50,152.53 208.00,152.26 208.50,152.12 209.00,152.11 209.50,152.23 210.00,152.47 210.50,152.83 211.00,153.33 211.50,153.94 212.00,154.67 212.50,155.52 213.00,156.48 213.50,157.55 214.00,158.71 214.50,159.98 215.00,161.34 215.50,162.78 216.00,164.30 216.50,165.89 217.00,167.55 217.50,169.27 218.00,171.03 218.50,172.85 219.00,174.70 219.50,176.58 220.00,178.48 220.50,180.41 221.00,182.34 221.50,184.27 222.00,186.21 222.50,188.13 223.00,190.04 223.50,191.93 224.00,193.80 224.50,195.64 225.00,197.44 225.50,199.21 226.00,200.94 226.50,202.62 227.00,204.25 227.50,205.84 228.00,207.37 228.50,208.85 229.00,210.28 229.50,211.65 230.00,212.96 230.50,214.22 231.00,215.42 231.50,216.56 232.00,217.64 232.50,218.67 233.00,219.65 233.50,220.57 234.00,221.44 234.50,222.26 235.00,223.03 235.50,223.75 236.00,224.42 236.50,225.05 237.00,225.64 237.50,226.18 238.00,226.69 238.50,227.16 239.00,227.59 239.50,227.99 240.00,228.36 240.50,228.70 241.00,229.01 241.50,229.29 242.00,229.55 242.50,229.79 243.00,230.01 243.50,230.21 244.00,230.39 244.50,230.55 245.00,230.70 245.50,230.83 246.00,230.95 246.50,231.06 247.00,231.15 247.50,231.24 248.00,231.32 248.50,231.39 249.00,231.45 249.50,231.50 250.00,231.55 250.50,231.59 251.00,231.63 251.50,231.67 252.00,231.70 252.50,231.72 253.00,231.75 253.50,231.77 254.00,231.78 254.50,231.80 255.00,231.81 255.50,231.83 256.00,231.84 256.50,231.85 257.00,231.85 257.50,231.86 258.00,231.87 258.50,231.87 259.00,231.87 259.50,231.88 260.00,231.88 260.50,231.88 261.00,231.89" fill="none" stroke="#000" stroke-width="1.0" stroke-linejoin="round"/>
<line x1="209" y1="144.4" x2="209" y2="235.8" stroke="rgba(238,16,16,0.8)" stroke-width="1.4"/>
<path d="M161,155.50V231.90" stroke="#444" stroke-width="0.33" fill="none"/>
<path d="M161,231.90h-2" stroke="#444" stroke-width="0.33"/>
<text transform="translate(156.15,231.90) rotate(-90)" font-size="4.12" text-anchor="middle">0</text>
<path d="M161,212.80h-2" stroke="#444" stroke-width="0.33"/>
<text transform="translate(156.15,212.80) rotate(-90)" font-size="4.12" text-anchor="middle">200</text>
<path d="M161,193.70h-2" stroke="#444" stroke-width="0.33"/>
<text transform="translate(156.15,193.70) rotate(-90)" font-size="4.12" text-anchor="middle">400</text>
<path d="M161,174.60h-2" stroke="#444" stroke-width="0.33"/>
<text transform="translate(156.15,174.60) rotate(-90)" font-size="4.12" text-anchor="middle">600</text>
<path d="M161,155.50h-2" stroke="#444" stroke-width="0.33"/>
<text transform="translate(156.15,155.50) rotate(-90)" font-size="4.12" text-anchor="middle">800</text>
<text transform="translate(147.20,189.50) rotate(-90)" font-size="4.12" text-anchor="middle">Frequency</text>
<path d="M175.70,235.3H262.30" stroke="#444" stroke-width="0.33" fill="none"/>
<path d="M175.70,235.3v2" stroke="#444" stroke-width="0.33"/>
<text x="175.70" y="243.40" font-size="4.12" text-anchor="middle">2.3647</text>
<path d="M193.02,235.3v2" stroke="#444" stroke-width="0.33"/>
<text x="193.02" y="243.40" font-size="4.12" text-anchor="middle">2.3648</text>
<path d="M210.34,235.3v2" stroke="#444" stroke-width="0.33"/>
<text x="210.34" y="243.40" font-size="4.12" text-anchor="middle">2.3649</text>
<path d="M227.66,235.3v2" stroke="#444" stroke-width="0.33"/>
<text x="227.66" y="243.40" font-size="4.12" text-anchor="middle">2.3650</text>
<path d="M244.98,235.3v2" stroke="#444" stroke-width="0.33"/>
<text x="244.98" y="243.40" font-size="4.12" text-anchor="middle">2.3651</text>
<path d="M262.30,235.3v2" stroke="#444" stroke-width="0.33"/>
<text x="262.30" y="243.40" font-size="4.12" text-anchor="middle">2.3652</text>
<text x="213.70" y="252.30" font-size="4.12" text-anchor="middle">s</text>
</g>
<g>
<path d="M303.90,231.90V231.75h1.80V231.67h1.80V231.58h1.80V231.51h1.80V231.22h1.80V230.75h1.80V230.27h1.80V229.46h1.80V228.87h1.80V227.74h1.80V225.91h1.80V224.15h1.80V220.57h1.80V213.79h1.80V206.87h1.80V200.28h1.80V193.26h1.80V186.55h1.80V178.32h1.80V168.64h1.80V165.62h1.80V158.12h1.80V156.60h1.80V155.93h1.80V156.15h1.80V159.09h1.80V160.40h1.80V165.92h1.80V170.30h1.80V178.90h1.80V186.54h1.80V193.71h1.80V200.48h1.80V206.77h1.80V215.15h1.80V221.05h1.80V224.24h1.80V226.43h1.80V227.74h1.80V228.84h1.80V229.60h1.80V230.34h1.80V230.95h1.80V231.44h1.80V231.45h1.80V231.75h1.80V231.74h1.80V231.75h1.80V231.75h1.80V231.90h1.80V231.90h1.80V231.90h1.80V231.90h1.80V231.90Z" fill="#00fdfd"/>
<path d="M307.50,231.90v-0.32h1.80v0.32M309.30,231.90v-0.39h1.80v0.39M311.10,231.90v-0.68h1.80v0.68M312.90,231.90v-1.15h1.80v1.15M314.70,231.90v-1.63h1.80v1.63M316.50,231.90v-2.44h1.80v2.44M318.30,231.90v-3.03h1.80v3.03M320.10,231.90v-4.16h1.80v4.16M321.90,231.90v-5.99h1.80v5.99M323.70,231.90v-7.75h1.80v7.75M325.50,231.90v-11.33h1.80v11.33M327.30,231.90v-18.11h1.80v18.11M329.10,231.90v-25.03h1.80v25.03M330.90,231.90v-31.62h1.80v31.62M332.70,231.90v-38.64h1.80v38.64M334.50,231.90v-45.35h1.80v45.35M336.30,231.90v-53.58h1.80v53.58M338.10,231.90v-63.26h1.80v63.26M339.90,231.90v-66.28h1.80v66.28M341.70,231.90v-73.78h1.80v73.78M343.50,231.90v-75.30h1.80v75.30M345.30,231.90v-75.97h1.80v75.97M347.10,231.90v-75.75h1.80v75.75M348.90,231.90v-72.81h1.80v72.81M350.70,231.90v-71.50h1.80v71.50M352.50,231.90v-65.98h1.80v65.98M354.30,231.90v-61.60h1.80v61.60M356.10,231.90v-53.00h1.80v53.00M357.90,231.90v-45.36h1.80v45.36M359.70,231.90v-38.19h1.80v38.19M361.50,231.90v-31.42h1.80v31.42M363.30,231.90v-25.13h1.80v25.13M365.10,231.90v-16.75h1.80v16.75M366.90,231.90v-10.85h1.80v10.85M368.70,231.90v-7.66h1.80v7.66M370.50,231.90v-5.47h1.80v5.47M372.30,231.90v-4.16h1.80v4.16M374.10,231.90v-3.06h1.80v3.06M375.90,231.90v-2.30h1.80v2.30M377.70,231.90v-1.56h1.80v1.56M379.50,231.90v-0.95h1.80v0.95M381.30,231.90v-0.46h1.80v0.46M383.10,231.90v-0.45h1.80v0.45" fill="none" stroke="#06262c" stroke-width="0.16"/>
<rect x="345.7" y="148.1" width="1.25" height="83.80" fill="#00fdfd" stroke="#06262c" stroke-width="0.2"/>
<path d="M303.10,231.90H399.40" stroke="#0a4a50" stroke-width="0.5"/>
<polyline points="303.10,231.85 303.60,231.84 304.10,231.83 304.60,231.82 305.10,231.80 305.60,231.79 306.10,231.77 306.60,231.75 307.10,231.72 307.60,231.69 308.10,231.66 308.60,231.62 309.10,231.58 309.60,231.53 310.10,231.48 310.60,231.42 311.10,231.35 311.60,231.27 312.10,231.18 312.60,231.08 313.10,230.97 313.60,230.85 314.10,230.71 314.60,230.55 315.10,230.38 315.60,230.19 316.10,229.97 316.60,229.73 317.10,229.52 317.60,229.33 318.10,229.12 318.60,228.89 319.10,228.65 319.60,228.38 320.10,228.10 320.60,227.79 321.10,227.43 321.60,227.03 322.10,226.59 322.60,226.11 323.10,225.60 323.60,225.04 324.10,224.45 324.60,223.81 325.10,223.11 325.60,222.04 326.10,220.64 326.60,219.13 327.10,217.40 327.60,215.47 328.10,213.43 328.60,211.48 329.10,209.50 329.60,207.45 330.10,205.45 330.60,203.49 331.10,201.47 331.60,199.41 332.10,197.50 332.60,195.67 333.10,193.81 333.60,191.92 334.10,190.00 334.60,188.06 335.10,186.08 335.60,184.07 336.10,182.06 336.60,180.06 337.10,178.08 337.60,176.13 338.10,174.22 338.60,172.35 339.10,170.53 339.60,168.77 340.10,167.09 340.60,165.48 341.10,163.97 341.60,162.54 342.10,161.22 342.60,160.02 343.10,158.92 343.60,157.96 344.10,157.12 344.60,156.41 345.10,155.85 345.60,155.42 346.10,155.14 346.60,155.01 347.10,155.00 347.60,155.00 348.10,155.00 348.60,155.01 349.10,155.14 349.60,155.42 350.10,155.85 350.60,156.41 351.10,157.12 351.60,157.96 352.10,158.92 352.60,160.02 353.10,161.22 353.60,162.54 354.10,163.97 354.60,165.48 355.10,167.09 355.60,168.77 356.10,170.53 356.60,172.35 357.10,174.22 357.60,176.13 358.10,178.08 358.60,180.06 359.10,182.06 359.60,184.07 360.10,186.08 360.60,188.06 361.10,190.00 361.60,191.92 362.10,193.81 362.60,195.67 363.10,197.50 363.60,199.41 364.10,201.47 364.60,203.49 365.10,205.45 365.60,207.45 366.10,209.50 366.60,211.48 367.10,213.43 367.60,215.47 368.10,217.40 368.60,219.13 369.10,220.64 369.60,222.04 370.10,223.11 370.60,223.81 371.10,224.45 371.60,225.04 372.10,225.60 372.60,226.11 373.10,226.59 373.60,227.03 374.10,227.43 374.60,227.79 375.10,228.10 375.60,228.38 376.10,228.65 376.60,228.89 377.10,229.12 377.60,229.33 378.10,229.52 378.60,229.73 379.10,229.97 379.60,230.19 380.10,230.38 380.60,230.55 381.10,230.71 381.60,230.85 382.10,230.97 382.60,231.08 383.10,231.18 383.60,231.27 384.10,231.35 384.60,231.42 385.10,231.48 385.60,231.53 386.10,231.58 386.60,231.62 387.10,231.66 387.60,231.69 388.10,231.72 388.60,231.75 389.10,231.77 389.60,231.79 390.10,231.80 390.60,231.82 391.10,231.83 391.60,231.84 392.10,231.85 392.60,231.86 393.10,231.86 393.60,231.87 394.10,231.88 394.60,231.88 395.10,231.88 395.60,231.89 396.10,231.89 396.60,231.89 397.10,231.89 397.60,231.89 398.10,231.89 398.60,231.90 399.10,231.90" fill="none" stroke="#000" stroke-width="0.5" stroke-dasharray="0.5 1.3"/>
<line x1="347.6" y1="144.3" x2="347.6" y2="235.8" stroke="#e42626" stroke-width="1.25"/>
<path d="M299,162.10V231.90" stroke="#444" stroke-width="0.33" fill="none"/>
<path d="M299,231.90h-2" stroke="#444" stroke-width="0.33"/>
<text transform="translate(294.15,231.90) rotate(-90)" font-size="4.12" text-anchor="middle">0</text>
<path d="M299,214.45h-2" stroke="#444" stroke-width="0.33"/>
<text transform="translate(294.15,214.45) rotate(-90)" font-size="4.12" text-anchor="middle">200</text>
<path d="M299,197.00h-2" stroke="#444" stroke-width="0.33"/>
<text transform="translate(294.15,197.00) rotate(-90)" font-size="4.12" text-anchor="middle">400</text>
<path d="M299,179.55h-2" stroke="#444" stroke-width="0.33"/>
<text transform="translate(294.15,179.55) rotate(-90)" font-size="4.12" text-anchor="middle">600</text>
<path d="M299,162.10h-2" stroke="#444" stroke-width="0.33"/>
<text transform="translate(294.15,162.10) rotate(-90)" font-size="4.12" text-anchor="middle">800</text>
<text transform="translate(285.20,189.50) rotate(-90)" font-size="4.12" text-anchor="middle">Frequency</text>
<path d="M301.10,235.3H391.10" stroke="#444" stroke-width="0.33" fill="none"/>
<path d="M301.10,235.3v2" stroke="#444" stroke-width="0.33"/>
<text x="301.10" y="243.40" font-size="4.12" text-anchor="middle">0.87178</text>
<path d="M319.10,235.3v2" stroke="#444" stroke-width="0.33"/>
<text x="319.10" y="243.40" font-size="4.12" text-anchor="middle">0.87179</text>
<path d="M337.10,235.3v2" stroke="#444" stroke-width="0.33"/>
<text x="337.10" y="243.40" font-size="4.12" text-anchor="middle">0.87180</text>
<path d="M355.10,235.3v2" stroke="#444" stroke-width="0.33"/>
<text x="355.10" y="243.40" font-size="4.12" text-anchor="middle">0.87181</text>
<path d="M373.10,235.3v2" stroke="#444" stroke-width="0.33"/>
<text x="373.10" y="243.40" font-size="4.12" text-anchor="middle">0.87182</text>
<path d="M391.10,235.3v2" stroke="#444" stroke-width="0.33"/>
<text x="391.10" y="243.40" font-size="4.12" text-anchor="middle">0.87183</text>
<text x="351.00" y="252.30" font-size="4.12" text-anchor="middle">R(t)</text>
</g>
<g>
<path d="M443.34,231.90V231.75h3.14V231.75h3.14V231.72h3.14V231.44h3.14V230.90h3.14V229.76h3.14V227.11h3.14V222.54h3.14V213.61h3.14V199.80h3.14V190.30h3.14V177.70h3.14V167.30h3.14V156.90h3.14V147.20h3.14V152.30h3.14V166.20h3.14V176.60h3.14V190.50h3.14V198.60h3.14V213.26h3.14V221.88h3.14V226.97h3.14V229.63h3.14V230.82h3.14V231.60h3.14V231.69h3.14V231.75h3.14V231.75h3.14V231.90Z" fill="#00fdfd"/>
<path d="M452.76,231.90v-0.46h3.14v0.46M455.90,231.90v-1.00h3.14v1.00M459.04,231.90v-2.14h3.14v2.14M462.18,231.90v-4.79h3.14v4.79M465.32,231.90v-9.36h3.14v9.36M468.46,231.90v-18.29h3.14v18.29M471.60,231.90v-32.10h3.14v32.10M474.74,231.90v-41.60h3.14v41.60M477.88,231.90v-54.20h3.14v54.20M481.02,231.90v-64.60h3.14v64.60M484.16,231.90v-75.00h3.14v75.00M487.30,231.90v-84.70h3.14v84.70M490.44,231.90v-79.60h3.14v79.60M493.58,231.90v-65.70h3.14v65.70M496.72,231.90v-55.30h3.14v55.30M499.86,231.90v-41.40h3.14v41.40M503.00,231.90v-33.30h3.14v33.30M506.14,231.90v-18.64h3.14v18.64M509.28,231.90v-10.02h3.14v10.02M512.42,231.90v-4.93h3.14v4.93M515.56,231.90v-2.27h3.14v2.27M518.70,231.90v-1.08h3.14v1.08" fill="none" stroke="#06262c" stroke-width="0.16"/>
<path d="M440.60,231.90H536.30" stroke="#0a4a50" stroke-width="0.5"/>
<polyline points="440.60,231.90 441.10,231.90 441.60,231.90 442.10,231.89 442.60,231.89 443.10,231.89 443.60,231.89 444.10,231.89 444.60,231.88 445.10,231.88 445.60,231.88 446.10,231.87 446.60,231.87 447.10,231.86 447.60,231.85 448.10,231.84 448.60,231.83 449.10,231.82 449.60,231.80 450.10,231.79 450.60,231.77 451.10,231.74 451.60,231.71 452.10,231.68 452.60,231.64 453.10,231.60 453.60,231.55 454.10,231.49 454.60,231.42 455.10,231.35 455.60,231.26 456.10,231.16 456.60,231.05 457.10,230.93 457.60,230.78 458.10,230.62 458.60,230.44 459.10,230.24 459.60,230.01 460.10,229.76 460.60,229.47 461.10,229.16 461.60,228.81 462.10,228.43 462.60,228.00 463.10,227.54 463.60,227.03 464.10,226.47 464.60,225.86 465.10,225.20 465.60,224.45 466.10,223.55 466.60,222.56 467.10,221.50 467.60,220.30 468.10,218.79 468.60,217.18 469.10,215.58 469.60,213.91 470.10,212.17 470.60,210.34 471.10,208.15 471.60,205.82 472.10,203.44 472.60,201.02 473.10,199.12 473.60,197.33 474.10,195.50 474.60,193.64 475.10,191.76 475.60,189.85 476.10,187.93 476.60,186.01 477.10,184.08 477.60,182.16 478.10,180.25 478.60,178.36 479.10,176.49 479.60,174.67 480.10,172.88 480.60,171.14 481.10,169.47 481.60,167.85 482.10,166.31 482.60,164.85 483.10,163.47 483.60,162.19 484.10,161.00 484.60,159.93 485.10,158.96 485.60,158.10 486.10,157.37 486.60,156.76 487.10,156.28 487.60,155.92 488.10,155.70 488.60,155.60 489.10,155.60 489.60,155.62 490.10,155.77 490.60,156.05 491.10,156.45 491.60,156.99 492.10,157.65 492.60,158.43 493.10,159.33 493.60,160.34 494.10,161.47 494.60,162.69 495.10,164.01 495.60,165.42 496.10,166.92 496.60,168.49 497.10,170.13 497.60,171.83 498.10,173.59 498.60,175.39 499.10,177.24 499.60,179.11 500.10,181.01 500.60,182.93 501.10,184.85 501.60,186.78 502.10,188.70 502.60,190.62 503.10,192.51 503.60,194.39 504.10,196.24 504.60,198.05 505.10,199.83 505.60,201.99 506.10,204.40 506.60,206.76 507.10,209.06 507.60,211.08 508.10,212.87 508.60,214.59 509.10,216.22 509.60,217.84 510.10,219.41 510.60,220.82 511.10,221.93 511.60,222.96 512.10,223.92 512.60,224.77 513.10,225.47 513.60,226.11 514.10,226.70 514.60,227.24 515.10,227.73 515.60,228.18 516.10,228.59 516.60,228.96 517.10,229.29 517.60,229.59 518.10,229.86 518.60,230.10 519.10,230.32 519.60,230.52 520.10,230.69 520.60,230.84 521.10,230.98 521.60,231.10 522.10,231.20 522.60,231.30 523.10,231.38 523.60,231.45 524.10,231.51 524.60,231.57 525.10,231.62 525.60,231.66 526.10,231.69 526.60,231.72 527.10,231.75 527.60,231.77 528.10,231.79 528.60,231.81 529.10,231.82 529.60,231.84 530.10,231.85 530.60,231.86 531.10,231.86 531.60,231.87 532.10,231.87 532.60,231.88 533.10,231.88 533.60,231.89 534.10,231.89 534.60,231.89 535.10,231.89 535.60,231.89 536.10,231.89" fill="none" stroke="#000" stroke-width="1.25" stroke-dasharray="1.4 4.4"/>
<line x1="488.65" y1="144.3" x2="488.65" y2="235.8" stroke="rgba(255,0,0,0.55)" stroke-width="1.3"/>
<path d="M436.3,162.30V231.90" stroke="#444" stroke-width="0.33" fill="none"/>
<path d="M436.3,231.90h-2" stroke="#444" stroke-width="0.33"/>
<text transform="translate(431.45,231.90) rotate(-90)" font-size="4.12" text-anchor="middle">0</text>
<path d="M436.3,208.70h-2" stroke="#444" stroke-width="0.33"/>
<text transform="translate(431.45,208.70) rotate(-90)" font-size="4.12" text-anchor="middle">500</text>
<path d="M436.3,185.50h-2" stroke="#444" stroke-width="0.33"/>
<text transform="translate(431.45,185.50) rotate(-90)" font-size="4.12" text-anchor="middle">1000</text>
<path d="M436.3,162.30h-2" stroke="#444" stroke-width="0.33"/>
<text transform="translate(431.45,162.30) rotate(-90)" font-size="4.12" text-anchor="middle">1500</text>
<text transform="translate(422.50,189.50) rotate(-90)" font-size="4.12" text-anchor="middle">Frequency</text>
<path d="M443.40,235.3H537.69" stroke="#444" stroke-width="0.33" fill="none"/>
<path d="M443.40,235.3v2" stroke="#444" stroke-width="0.33"/>
<text x="443.40" y="243.40" font-size="4.12" text-anchor="middle">0.0040615</text>
<path d="M474.83,235.3v2" stroke="#444" stroke-width="0.33"/>
<text x="474.83" y="243.40" font-size="4.12" text-anchor="middle">0.0040620</text>
<path d="M506.26,235.3v2" stroke="#444" stroke-width="0.33"/>
<text x="506.26" y="243.40" font-size="4.12" text-anchor="middle">0.0040625</text>
<path d="M537.69,235.3v2" stroke="#444" stroke-width="0.33"/>
<text x="537.69" y="243.40" font-size="4.12" text-anchor="middle">0.0040630</text>
<text x="488.60" y="252.30" font-size="4.12" text-anchor="middle">h(t)</text>
</g>
</svg></body></html>
